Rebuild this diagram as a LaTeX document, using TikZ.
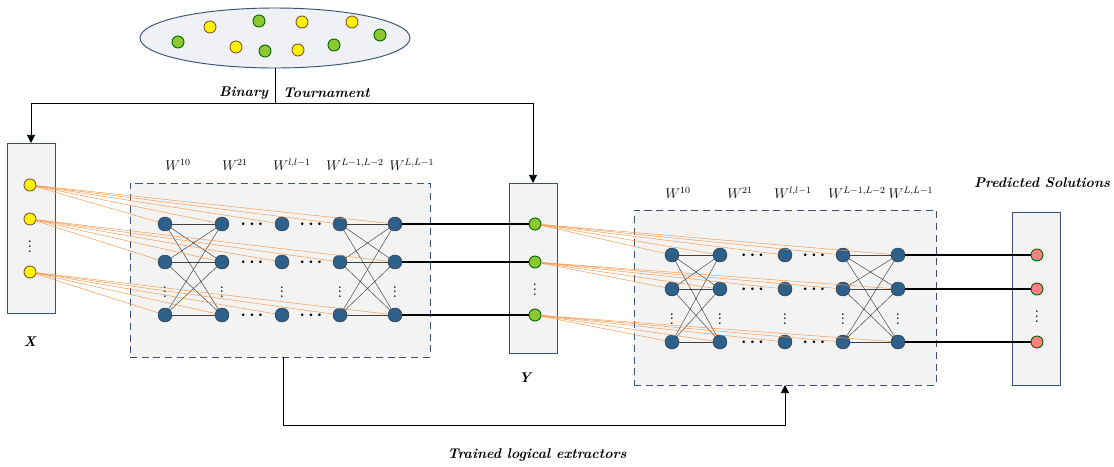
\documentclass[tikz,border=0pt]{standalone}
\usepackage{tikz}
\usetikzlibrary{arrows.meta}
\definecolor{netblue}{RGB}{46,96,140}
\definecolor{boxblue}{RGB}{60,80,120}
\definecolor{boxfill}{RGB}{243,243,243}
\definecolor{wire}{RGB}{245,150,70}
\definecolor{leaf}{RGB}{140,200,50}
\begin{document}
\begin{tikzpicture}[x=0.03cm,y=-0.03cm,
  every node/.style={inner sep=0pt, outer sep=0pt},
  unit/.style={circle, draw=black!80, fill=netblue, minimum size=0.42cm},
  yel/.style={circle, draw=brown!70!black, fill=yellow, minimum size=0.36cm, thick},
  grn/.style={circle, draw=green!40!black, fill=leaf, minimum size=0.36cm, thick},
  pnk/.style={circle, draw=green!40!black, fill=red!50, minimum size=0.36cm, thick},
  panel/.style={draw=boxblue, thick, fill=boxfill},
  dashpanel/.style={draw=boxblue, thick, dashed, dash pattern=on 6pt off 4pt, fill=boxfill},
  lbl/.style={font=\large\bfseries\itshape},
  wlbl/.style={font=\large\itshape},
  vd/.style={font=\Large\boldmath}]
\useasboundingbox (0,0) rectangle (1114,466);
% population
\draw[boxblue, fill=boxblue!8, thick] (275,38) ellipse (135 and 30);
\foreach \x/\y [count=\i] in {210/27,236/47,298/50,302/22,352/22}
  \node[yel] (py\i) at (\x,\y) {};
\foreach \x/\y [count=\i] in {178/42,259/21,265/51,334/45,380/35}
  \node[grn] (pg\i) at (\x,\y) {};
\node[lbl, anchor=east] (bin) at (268,93) {Binary};
\node[lbl, anchor=west] (tour) at (283,93) {Tournament};
\coordinate (sel) at (275,103);
% panels
\node[panel, minimum width=1.44cm, minimum height=5.1cm] (xbox) at (31,228) {};
\node[dashpanel, minimum width=9cm, minimum height=5.22cm] (net1) at (280,270) {};
\node[panel, minimum width=1.44cm, minimum height=5.1cm] (ybox) at (533,268) {};
\node[dashpanel, minimum width=9.06cm, minimum height=5.25cm] (net2) at (785,297.5) {};
\node[panel, minimum width=1.44cm, minimum height=5.19cm] (pbox) at (1036,298.5) {};
\draw[thick] (275,68) -- (sel);
\draw[thick, -{Triangle[length=7pt,width=7pt]}] (sel) -| (ybox.north);
\draw[thick, -{Triangle[length=7pt,width=7pt]}] (sel) -| (xbox.north);
% inputs and outputs
\foreach \y [count=\r] in {185,219,272} \node[yel] (x\r) at (30,\y) {};
\node[vd] (xd) at (30,243) {$\vdots$};
\foreach \y [count=\r] in {224,262,315} \node[grn] (y\r) at (535,\y) {};
\node[vd] (yd) at (535,286) {$\vdots$};
\foreach \y [count=\r] in {255,289,342} \node[pnk] (p\r) at (1037,\y) {};
\node[vd] (pd) at (1037,313) {$\vdots$};
\node[lbl] (xl) at (30,342) {X};
\node[lbl] (yl) at (525,378) {Y};
\node[lbl, anchor=east] (pl) at (1110,183) {Predicted Solutions};
% networks
\foreach \n/\xs/\ys/\src/\dst in {a/{165,222,282,340,395}/{224,262,315}/x/y,
                                  b/{672,720,785,843,898}/{255,289,342}/y/p}{
  \foreach \xx [count=\c] in \xs {
    \foreach \yy [count=\r] in \ys \node[unit] (\n\c\r) at (\xx,\yy) {};
  }
  \foreach \c/\d in {1/2,4/5}
    \foreach \r in {1,2,3}
      \foreach \s in {1,2,3}
        \draw[black!75, thin] (\n\c\r) -- (\n\d\s);
  \foreach \c in {1,...,5}
    \path (\n\c2) -- (\n\c3) node[midway, vd] {$\vdots$};
  \foreach \c in {2,3} {
    \pgfmathtruncatemacro\d{\c+1}
    \foreach \r in {1,2,3}
      \path (\n\c\r) -- (\n\d\r) node[midway, vd] {$\cdots$};
  }
  \foreach \r in {1,2,3} {
    \foreach \c in {1,...,5}
      \draw[wire, thin] (\src\r) -- (\n\c\r);
    \draw[very thick] (\n5\r) -- (\dst\r);
  }
}
\foreach \t/\x in {{W^{10}}/178,{W^{21}}/235,{W^{l,l-1}}/292,{W^{L-1,L-2}}/355,{W^{L,L-1}}/412}
  \node[wlbl] at (\x,165) {$\t$};
\foreach \t/\x in {{W^{10}}/678,{W^{21}}/740,{W^{l,l-1}}/793,{W^{L-1,L-2}}/857,{W^{L,L-1}}/911}
  \node[wlbl] at (\x,193) {$\t$};
% transfer
\coordinate (tr1) at (283,425);
\coordinate (tr2) at (785,425);
\draw[thick, -{Triangle[length=7pt,width=7pt]}] (283,357) -- (tr1) -- (tr2) -- (net2.south);
\node[lbl] (trl) at (537,455) {Trained logical extractors};
\end{tikzpicture}
\end{document}
